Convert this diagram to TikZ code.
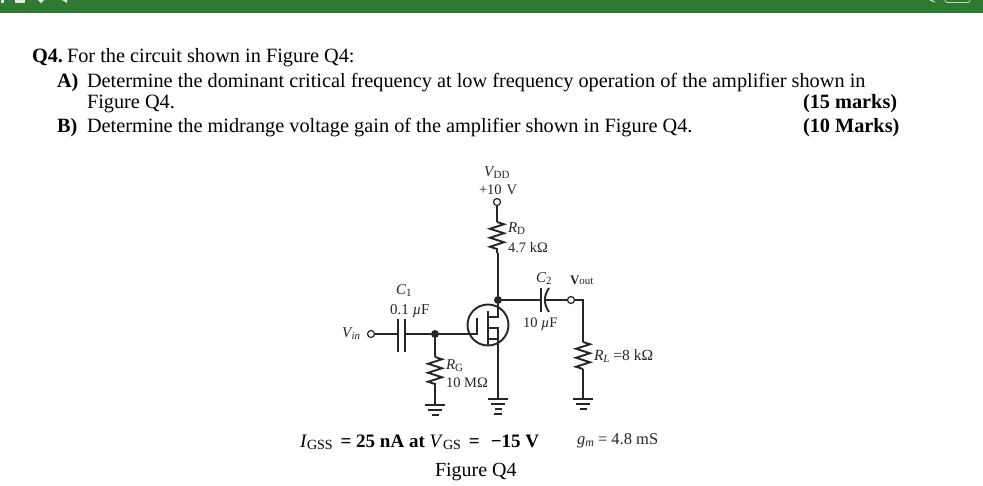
\documentclass[tikz,border=0pt]{standalone}
\usepackage{fontspec}
\setmainfont{Liberation Serif}
\usetikzlibrary{decorations.pathmorphing,calc}
\definecolor{bar}{HTML}{2F7A33}
\definecolor{ink}{HTML}{262626}
\newcommand{\sbs}[2][11]{\raisebox{-.3ex}{\fontsize{#1}{#1}\selectfont #2}}
\tikzset{
  x=1pt,y=-1pt,
  txt/.style={anchor=base west,inner sep=0pt,outer sep=0pt,text=black,font=\fontsize{20.3}{22}\selectfont},
  btxt/.style={txt,font=\fontsize{20.3}{22}\selectfont\bfseries},
  lab/.style={inner sep=0pt,outer sep=0pt,anchor=base west,text=ink,font=\fontsize{15}{17}\selectfont},
  wire/.style={draw=ink,line width=1.3pt},
  thick wire/.style={draw=ink,line width=2.2pt},
  term/.style={circle,draw=ink,line width=1.2pt,fill=white,minimum size=7pt,inner sep=0pt},
  dot/.style={circle,fill=ink,minimum size=8pt,inner sep=0pt},
  res/.style={draw=ink,line width=1.9pt,line join=miter,decorate,decoration={zigzag,segment length=9pt,amplitude=7pt}}
}
\newcommand{\gnd}[1]{%
  \draw[wire,line width=1.8pt] ($(#1)+(-10,0)$) -- ($(#1)+(10,0)$);
  \draw[wire,line width=1.8pt] ($(#1)+(-7,5)$) -- ($(#1)+(7,5)$);
  \draw[wire,line width=1.8pt] ($(#1)+(-3.5,10)$) -- ($(#1)+(3.5,10)$);
}
\begin{document}
\begin{tikzpicture}
\useasboundingbox (0,0) rectangle (983,485);
\fill[white] (0,0) rectangle (983,485);
\fill[bar] (0,0) rectangle (983,13);
% toolbar fragments
\fill[white!85!bar] (1,0) rectangle (4,3);
\fill[white!85!bar] (15,0) rectangle (25,2.5);
\fill[white!85!bar] (38,0) -- (44,0) -- (41,3) -- cycle;
\fill[white!85!bar] (62,0) -- (67,0) -- (67,3) -- cycle;
\draw[white!70!bar,line width=.8pt] (945,0) -- (945,1) -- (947,2.5) -- (968,2.5) -- (970,1) -- (970,0);
\draw[white!85!bar,line width=1pt] (930,0) -- (935,2);
% question text
\node[btxt] (q) at (32,62) {Q4.};
\node[txt] (q1) at (67,62) {For the circuit shown in Figure Q4:};
\node[btxt] (a) at (57,87) {A)};
\node[txt] (a1) at (87,87) {Determine the dominant critical frequency at low frequency operation of the amplifier shown in};
\node[txt] (a2) at (87,108) {Figure Q4.};
\node[btxt] (m1) at (803,108) {(15 marks)};
\node[btxt] (b) at (57,132) {B)};
\node[txt] (b1) at (87,132) {Determine the midrange voltage gain of the amplifier shown in Figure Q4.};
\node[btxt] (m2) at (803,132) {(10 Marks)};
% circuit nodes
\node[term] (vdd) at (497,202) {};
\coordinate (rdt) at (497,222);
\coordinate (rdb) at (497,253);
\coordinate (dtop) at (498,253);
\node[dot] (d) at (498,300) {};
\node[term] (vout) at (571,300) {};
\coordinate (c2a) at (541,300);
\coordinate (c2b) at (545,300);
\coordinate (rlc) at (583,300);
\coordinate (rlt) at (583,342);
\coordinate (rlb) at (583,369);
\coordinate (gl) at (583,399);
\node[term] (vin) at (371,334) {};
\coordinate (c1a) at (398,334);
\coordinate (c1b) at (405,334);
\node[dot] (g) at (435,334) {};
\coordinate (rgt) at (435,357);
\coordinate (rgb) at (435,386);
\coordinate (gg) at (435,405);
\coordinate (gs) at (498,399);
\node[circle,draw=ink,line width=1.9pt,minimum size=41pt,inner sep=0pt] (fet) at (488,325) {};
\coordinate (gw) at (470,334);
\coordinate (gv) at (477,334);
\coordinate (gtop) at (477,318);
\coordinate (dr) at (498,317);
\coordinate (drl) at (488,317);
\coordinate (mr) at (498,328);
\coordinate (ml) at (488,328);
\coordinate (sr) at (498,339);
\coordinate (sl) at (488,339);
% wires
\draw[wire] (vdd) -- (rdt);
\draw[res] (rdt) -- (rdb);
\draw[thick wire] (dtop) -- (d);
\draw[wire] (d) -- (c2a);
\draw[wire] (c2b) -- (vout);
\draw[wire] (vout) -- (rlc) -- (rlt);
\draw[res] (rlt) -- (rlb);
\draw[wire] (rlb) -- (gl);
\gnd{gl}
\draw[wire] (vin) -- (c1a);
\draw[wire] (c1b) -- (g);
\draw[wire,line width=1.9pt] (398,319) -- (398,352);
\draw[wire,line width=1.9pt] (405,319) -- (405,352);
\draw[wire,line width=1.9pt] (541,288) -- (541,312);
\draw[wire,line width=1.9pt] (549,288) .. controls (543.5,296) and (543.5,304) .. (549,312);
\draw[wire] (g) -- (gw);
\draw[wire] (g) -- (rgt);
\draw[res] (rgt) -- (rgb);
\draw[wire] (rgb) -- (gg);
\gnd{gg}
% FET
\draw[wire,line width=1.9pt] (gw) -- (gv) -- (gtop);
\draw[wire,line width=2.4pt] (488,311) -- (488,345);
\draw[wire,line width=1.9pt] (d) -- (dr) -- (drl);
\draw[wire,line width=1.9pt] (ml) -- (mr) -- (sr) -- (sl);
\draw[wire] (sr) -- (gs);
\gnd{gs}
\draw[wire,line width=1.2pt] (494,414) -- (502,414);
% circuit labels
\node[lab] (lvdd) at (484,176) {\textit{V}\hspace{-1pt}\sbs{DD}};
\node[lab,font=\fontsize{14.5}{16}\selectfont] (l10v) at (479,194) {+10\,\,V};
\node[lab] (lrd) at (508,232) {\textit{R}\sbs{D}};
\node[lab,font=\fontsize{14.5}{16}\selectfont] (l47) at (508,252) {4.7 kΩ};
\node[lab] (lc2) at (536,282) {\textit{C}\sbs{2}};
\node[lab,font=\fontsize{13}{14}\selectfont] (lvout) at (570,284) {\textbf{V}\fontsize{11}{12}\selectfont out};
\node[lab] (lc1) at (396,294) {\textit{C}\sbs{1}};
\node[lab] (l01) at (390,314) {0.1 \textit{µ}F};
\node[lab] (lvin) at (342,337) {\textit{V}\hspace{-1pt}\sbs{\textit{in}}};
\node[lab,font=\fontsize{14.5}{16}\selectfont] (l10u) at (523,327) {10 \textit{µ}F};
\node[lab] (lrg) at (446,369) {\textit{R}\sbs{G}};
\node[lab,font=\fontsize{14.5}{16}\selectfont] (l10m) at (446,387) {10 MΩ};
\node[lab,font=\fontsize{15.5}{17}\selectfont] (lrl) at (594,360) {\textit{R}\sbs{\textit{L}} =8 kΩ};
\node[txt,font=\fontsize{19}{21}\selectfont\bfseries] (eq) at (300,447) {{\mdseries\textit{I}\sbs[14]{GSS}}\, = 25 nA at {\mdseries\textit{V}\sbs[14]{GS}}\, = \,\,−15 V};
\node[lab,font=\fontsize{16.5}{18}\selectfont] (gm) at (577,444) {\textit{g}\sbs[12]{\textit{m}} = 4.8 mS};
\node[txt,font=\fontsize{20}{22}\selectfont] (fig) at (435,476) {Figure Q4};
\end{tikzpicture}
\end{document}
